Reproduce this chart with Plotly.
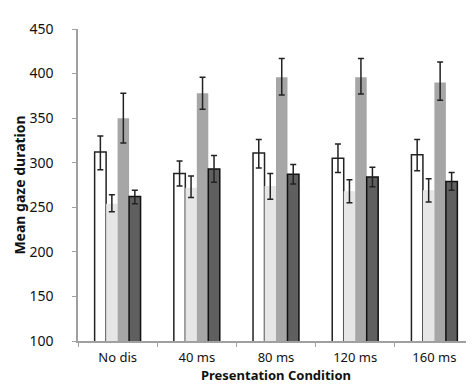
import plotly.graph_objects as go

categories = ["No dis", "40 ms", "80 ms", "120 ms", "160 ms"]

s1 = [312, 288, 311, 305, 309]
s1_hi = [330, 302, 326, 321, 326]
s1_lo = [292, 274, 294, 289, 291]

s2 = [254, 272, 274, 268, 269]
s2_hi = [264, 285, 288, 281, 282]
s2_lo = [245, 261, 259, 255, 256]

s3 = [350, 378, 396, 396, 390]
s3_hi = [378, 396, 417, 417, 413]
s3_lo = [322, 360, 376, 377, 370]

s4 = [262, 293, 287, 284, 279]
s4_hi = [269, 308, 298, 295, 289]
s4_lo = [254, 278, 276, 273, 269]

series = [
    (s1, s1_hi, s1_lo, "#ffffff", "#222222", 1.5),
    (s2, s2_hi, s2_lo, "#e6e6e6", "#e6e6e6", 0),
    (s3, s3_hi, s3_lo, "#a6a6a6", "#a6a6a6", 0),
    (s4, s4_hi, s4_lo, "#5f5f5f", "#111111", 1.5),
]

fig = go.Figure()
for vals, hi, lo, fill, line, lw in series:
    fig.add_trace(go.Bar(
        x=categories, y=vals,
        marker=dict(color=fill, line=dict(color=line, width=lw)),
        error_y=dict(type="data", symmetric=False,
                     array=[h - v for h, v in zip(hi, vals)],
                     arrayminus=[v - l for v, l in zip(vals, lo)],
                     color="#222222", thickness=1.5, width=3),
        showlegend=False,
    ))

font_family = "Noto Sans, sans-serif"
fig.update_layout(
    width=474, height=390,
    margin=dict(l=70, r=8, t=21, b=57),
    paper_bgcolor="white", plot_bgcolor="white",
    barmode="group", bargap=0.42, bargroupgap=0,
    font=dict(family=font_family, size=13, color="#111111"),
    xaxis=dict(
        showline=True, linecolor="#a0a0a0", linewidth=1.5,
        ticks="outside", tickson="boundaries", ticklen=4, tickcolor="#a0a0a0",
        tickfont=dict(size=13),
        ticklabelstandoff=4,
        title=dict(text="<b>Presentation Condition</b>", font=dict(size=13), standoff=0),
    ),
    yaxis=dict(
        range=[100, 450], dtick=50,
        showline=True, linecolor="#a0a0a0", linewidth=1.5,
        ticks="outside", ticklen=4, tickcolor="#a0a0a0",
        showgrid=False, zeroline=False,
        tickfont=dict(size=14),
        ticklabelstandoff=16,
        title=dict(text="<b>Mean gaze duration</b>", font=dict(size=14), standoff=0),
    ),
)

fig.write_html("out.html")
